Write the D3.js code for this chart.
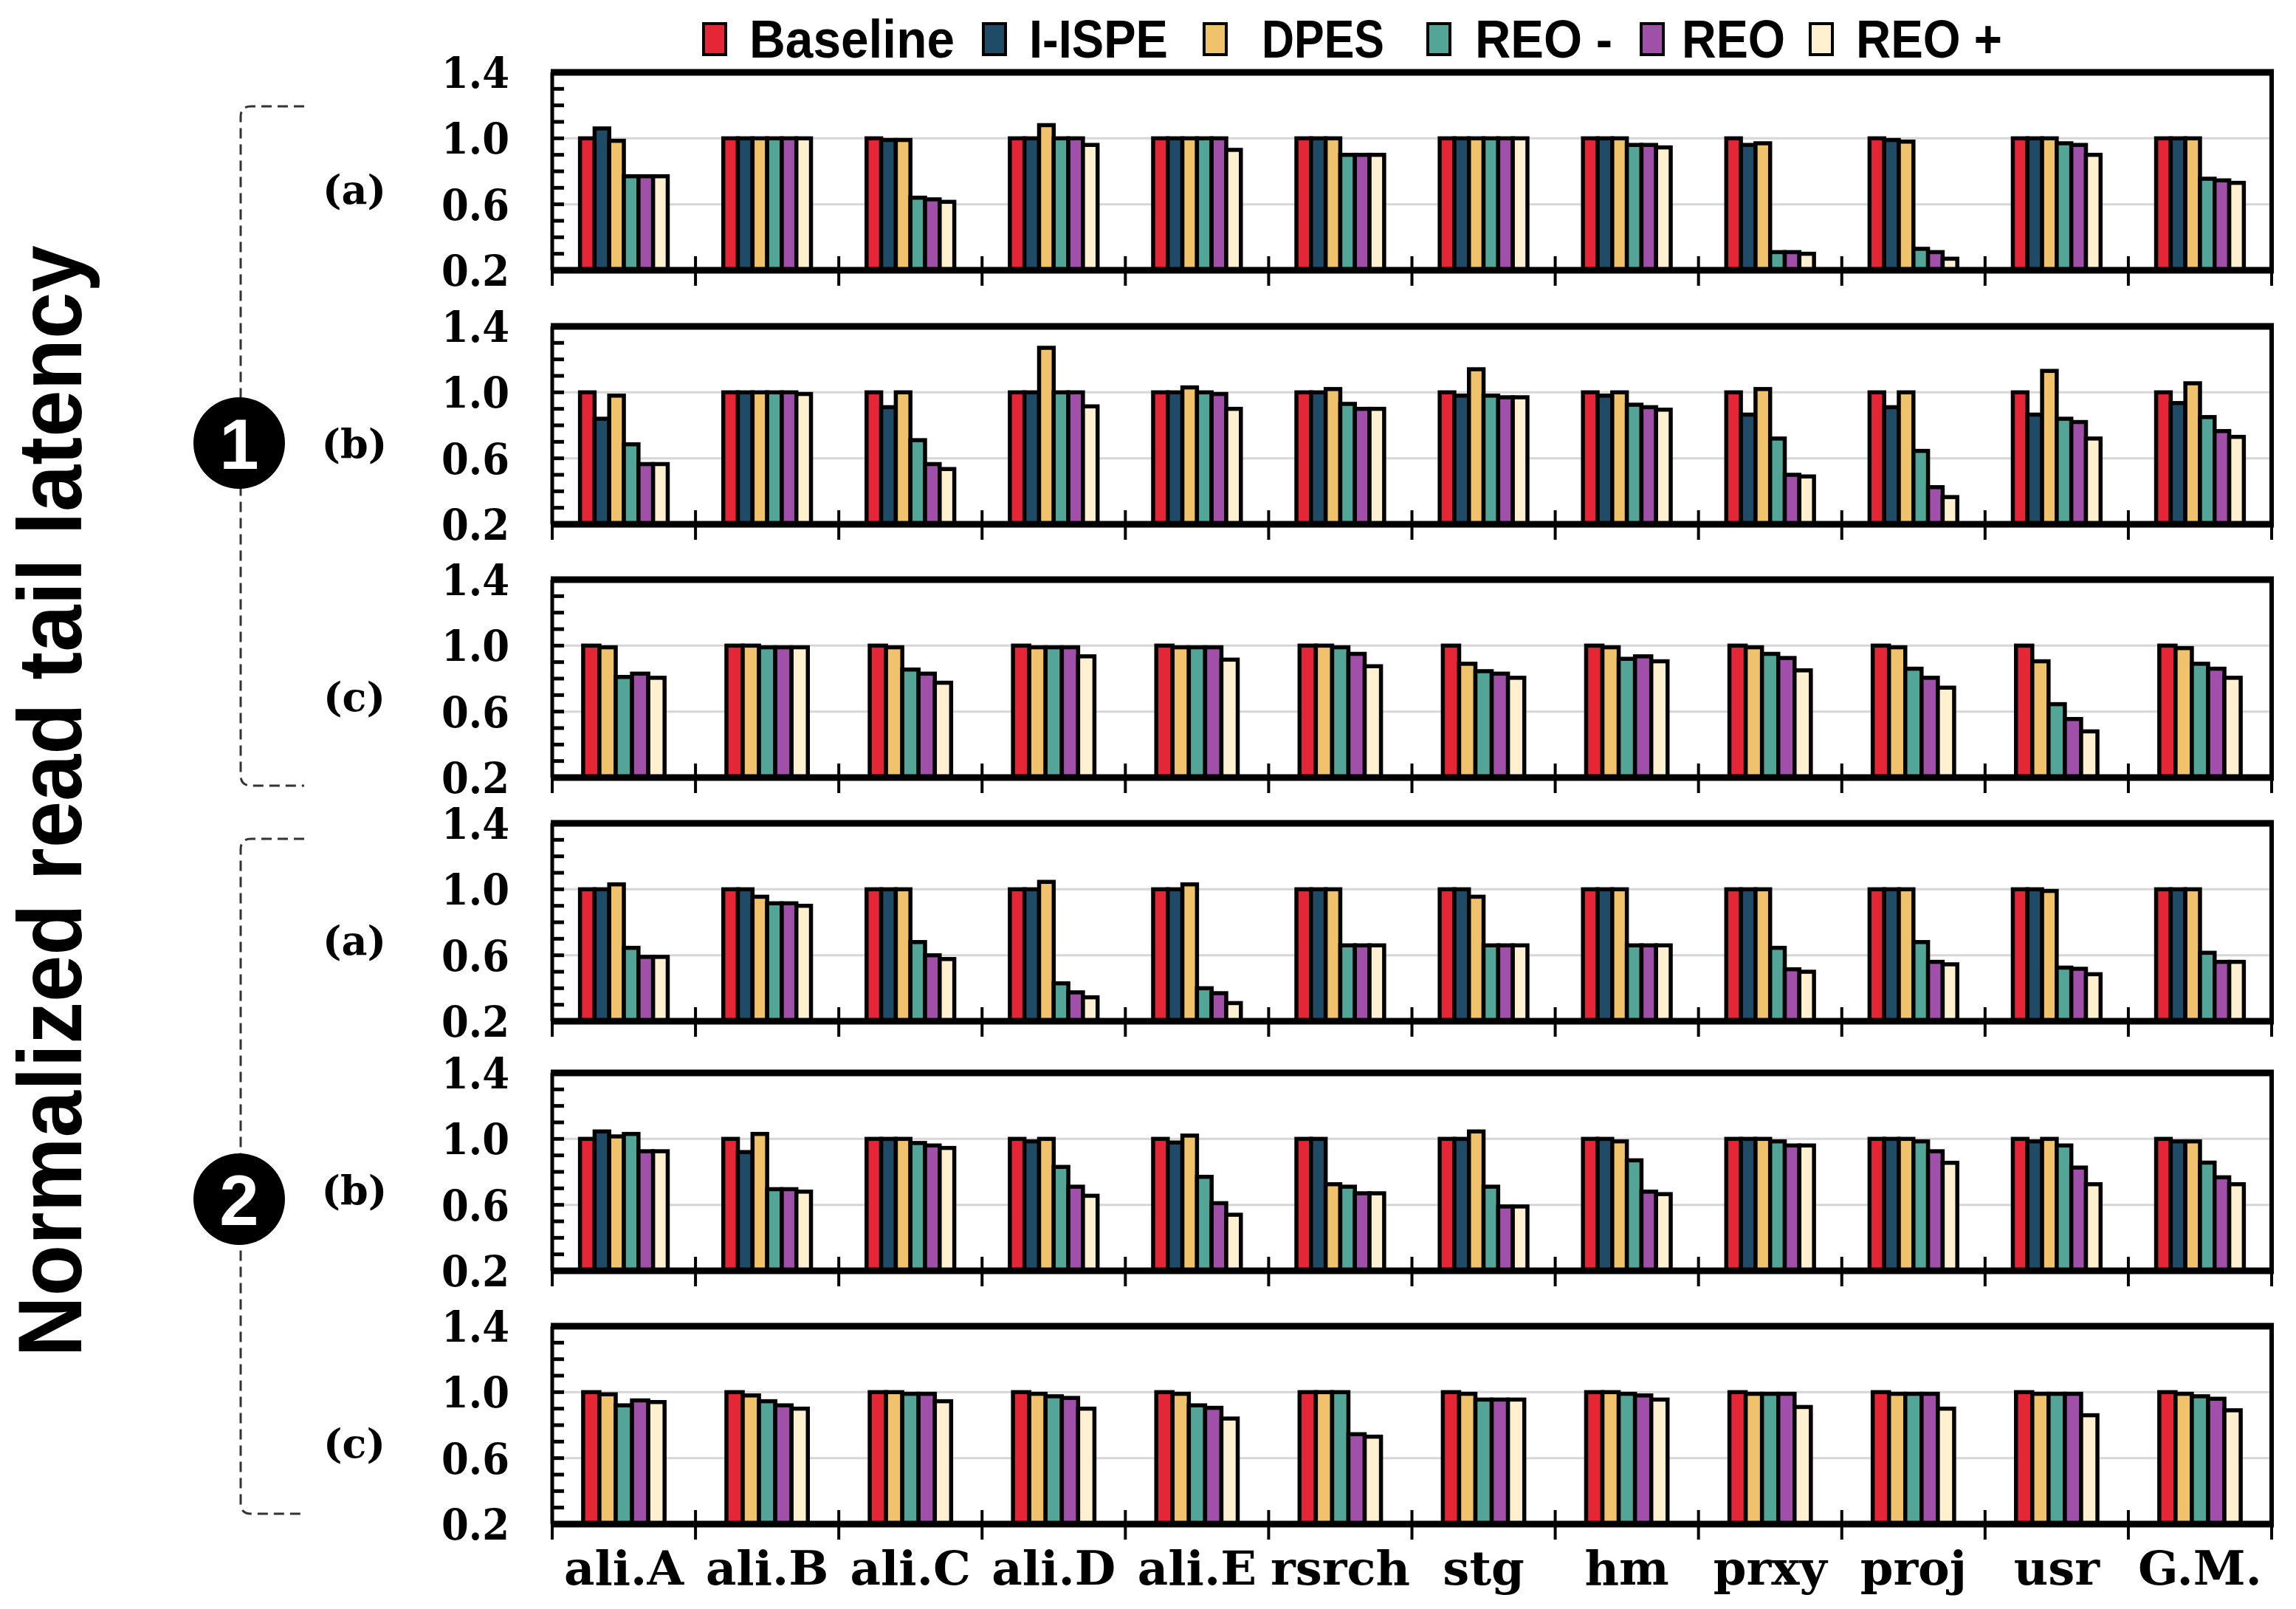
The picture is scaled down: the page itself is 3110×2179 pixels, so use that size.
<!DOCTYPE html>
<html>
<head>
<meta charset="utf-8">
<script src="https://cdn.jsdelivr.net/npm/d3@7"></script>
<style>
  body { margin: 0; background: #fff; }
  svg { display: block; background: #fff; }
</style>
</head>
<body>
<svg id="chart" width="3110" height="2179"></svg>
<script>
// ---- data ----
const categories = ["ali.A", "ali.B", "ali.C", "ali.D", "ali.E", "rsrch", "stg", "hm", "prxy", "proj", "usr", "G.M."];
const seriesNames = ["Baseline", "I-ISPE", "DPES", "REO -", "REO", "REO +"];
const seriesColors = ["#e52636", "#1f4b67", "#f0c26c", "#53a597", "#a050a8", "#fff1cf"];
const yTicks = [0.2, 0.6, 1.0, 1.4];
const gridTicks = [0.6, 1.0];
const panelLabels = ["(a)", "(b)", "(c)", "(a)", "(b)", "(c)"];
const groupMarks = ["1", "2"];

// scenario 1 (a)
const s1a = [
  [1.0, 1.0, 1.0, 1.0, 1.0, 1.0, 1.0, 1.0, 1.0, 1.0, 1.0, 1.0],
  [1.06, 1.0, 0.99, 1.0, 1.0, 1.0, 1.0, 1.0, 0.96, 0.99, 1.0, 1.0],
  [0.985, 1.0, 0.99, 1.08, 1.0, 1.0, 1.0, 1.0, 0.97, 0.98, 1.0, 1.0],
  [0.77, 1.0, 0.64, 1.0, 1.0, 0.90, 1.0, 0.96, 0.31, 0.33, 0.97, 0.755],
  [0.77, 1.0, 0.63, 1.0, 1.0, 0.90, 1.0, 0.96, 0.31, 0.31, 0.96, 0.745],
  [0.77, 1.0, 0.615, 0.96, 0.93, 0.90, 1.0, 0.945, 0.30, 0.27, 0.90, 0.73]
];
// scenario 1 (b)
const s1b = [
  [1.0, 1.0, 1.0, 1.0, 1.0, 1.0, 1.0, 1.0, 1.0, 1.0, 1.0, 1.0],
  [0.84, 1.0, 0.91, 1.0, 1.0, 1.0, 0.98, 0.98, 0.865, 0.91, 0.865, 0.935],
  [0.98, 1.0, 1.0, 1.27, 1.03, 1.02, 1.14, 1.0, 1.02, 1.0, 1.13, 1.055],
  [0.685, 1.0, 0.71, 1.0, 1.0, 0.93, 0.98, 0.925, 0.72, 0.645, 0.84, 0.85],
  [0.565, 1.0, 0.565, 1.0, 0.99, 0.90, 0.97, 0.91, 0.50, 0.425, 0.82, 0.765],
  [0.565, 0.99, 0.535, 0.915, 0.90, 0.90, 0.97, 0.895, 0.49, 0.365, 0.72, 0.73]
];
// scenario 1 (c) - no I-ISPE
const s1c = [
  [1.0, 1.0, 1.0, 1.0, 1.0, 1.0, 1.0, 1.0, 1.0, 1.0, 1.0, 1.0],
  null,
  [0.99, 1.0, 0.99, 0.99, 0.99, 1.0, 0.89, 0.99, 0.99, 0.99, 0.905, 0.985],
  [0.81, 0.99, 0.855, 0.99, 0.99, 0.99, 0.845, 0.92, 0.95, 0.86, 0.645, 0.89],
  [0.83, 0.99, 0.83, 0.99, 0.99, 0.95, 0.83, 0.935, 0.925, 0.805, 0.555, 0.86],
  [0.805, 0.99, 0.775, 0.935, 0.915, 0.875, 0.805, 0.905, 0.85, 0.745, 0.48, 0.805]
];
// scenario 2 (a)
const s2a = [
  [1.0, 1.0, 1.0, 1.0, 1.0, 1.0, 1.0, 1.0, 1.0, 1.0, 1.0, 1.0],
  [1.0, 1.0, 1.0, 1.0, 1.0, 1.0, 1.0, 1.0, 1.0, 1.0, 1.0, 1.0],
  [1.03, 0.955, 1.0, 1.045, 1.03, 1.0, 0.955, 1.0, 1.0, 1.0, 0.99, 1.0],
  [0.645, 0.915, 0.68, 0.43, 0.40, 0.66, 0.66, 0.66, 0.645, 0.68, 0.525, 0.615],
  [0.59, 0.915, 0.60, 0.375, 0.37, 0.66, 0.66, 0.66, 0.515, 0.56, 0.518, 0.56],
  [0.59, 0.90, 0.577, 0.345, 0.31, 0.66, 0.66, 0.66, 0.50, 0.545, 0.485, 0.56]
];
// scenario 2 (b)
const s2b = [
  [1.0, 1.0, 1.0, 1.0, 1.0, 1.0, 1.0, 1.0, 1.0, 1.0, 1.0, 1.0],
  [1.045, 0.92, 1.0, 0.985, 0.978, 1.0, 1.0, 1.0, 1.0, 1.0, 0.985, 0.985],
  [1.015, 1.03, 1.0, 1.0, 1.02, 0.725, 1.045, 0.985, 1.0, 1.0, 1.0, 0.985],
  [1.03, 0.695, 0.975, 0.83, 0.77, 0.71, 0.71, 0.87, 0.985, 0.985, 0.96, 0.856],
  [0.925, 0.695, 0.96, 0.71, 0.61, 0.67, 0.59, 0.68, 0.96, 0.925, 0.826, 0.767],
  [0.925, 0.68, 0.945, 0.655, 0.54, 0.67, 0.59, 0.665, 0.96, 0.855, 0.725, 0.725]
];
// scenario 2 (c) - no I-ISPE
const s2c = [
  [1.0, 1.0, 1.0, 1.0, 1.0, 1.0, 1.0, 1.0, 1.0, 1.0, 1.0, 1.0],
  null,
  [0.987, 0.98, 1.0, 0.99, 0.99, 1.0, 0.99, 1.0, 0.99, 0.99, 0.99, 0.99],
  [0.92, 0.945, 0.99, 0.975, 0.92, 1.0, 0.955, 0.99, 0.99, 0.99, 0.99, 0.975],
  [0.95, 0.92, 0.99, 0.965, 0.905, 0.745, 0.955, 0.98, 0.99, 0.99, 0.99, 0.96],
  [0.94, 0.90, 0.945, 0.90, 0.84, 0.73, 0.955, 0.955, 0.91, 0.90, 0.86, 0.89]
];

const panels = [s1a, s1b, s1c, s2a, s2b, s2c];

// ---- layout ----
const plotLeft = 748;
const plotRight = 3077;
const panelTops = [98, 442, 785, 1115, 1453, 1796];
const panelH = 268;
const legendX = [953, 1332, 1631, 1934, 2223, 2452];
const legendTextX = [1015, 1394, 1709, 1998, 2278, 2514];
const legendTextW = [278, 188, 166, 186, 140, 198];

const svg = d3.select("#chart");
const serif = "'DejaVu Serif', 'Liberation Serif', serif";
const sans = "'Liberation Sans', Arial, sans-serif";

const x = d3.scaleBand()
  .domain(categories)
  .range([plotLeft, plotRight])
  .padding(0);

function drawPanel(data, top, idx) {
  const bottom = top + panelH;
  const y = d3.scaleLinear().domain([0.2, 1.4]).range([bottom, top]);
  const g = svg.append("g");

  // grid lines
  g.selectAll("line.grid")
    .data(gridTicks)
    .join("line")
    .attr("x1", plotLeft).attr("x2", plotRight)
    .attr("y1", d => y(d)).attr("y2", d => y(d))
    .attr("stroke", "#d6d6d6")
    .attr("stroke-width", 3);

  // bars
  const present = data.map((d, k) => d ? k : -1).filter(k => k >= 0);
  const n = present.length;
  const bw = x.bandwidth() / (n + 3.8);
  const bars = [];
  categories.forEach((c, i) => {
    present.forEach((k, slot) => {
      bars.push({ cat: c, s: k, slot: slot, v: data[k][i] });
    });
  });
  g.selectAll("rect.bar")
    .data(bars)
    .join("rect")
    .attr("x", d => x(d.cat) + x.bandwidth() / 2 - n * bw / 2 + d.slot * bw)
    .attr("width", bw)
    .attr("y", d => y(d.v))
    .attr("height", d => y(0.2) - y(d.v))
    .attr("fill", d => seriesColors[d.s])
    .attr("stroke", "#000")
    .attr("stroke-width", 5.5);

  // minor ticks on the y axis (inside)
  const minor = d3.range(3, 14).map(v => v / 10);
  g.selectAll("line.minor")
    .data(minor)
    .join("line")
    .attr("x1", plotLeft).attr("x2", plotLeft + 16)
    .attr("y1", d => y(d)).attr("y2", d => y(d))
    .attr("stroke", "#000")
    .attr("stroke-width", 5);

  // category boundary ticks crossing the x axis
  const bounds = categories.map(c => x(c)).concat([plotRight]);
  g.selectAll("line.ctick")
    .data(bounds)
    .join("line")
    .attr("x1", d => d).attr("x2", d => d)
    .attr("y1", bottom - 19).attr("y2", bottom + 21)
    .attr("stroke", "#000")
    .attr("stroke-width", 4);

  // frame
  g.append("line").attr("x1", plotLeft).attr("x2", plotLeft)
    .attr("y1", top).attr("y2", bottom)
    .attr("stroke", "#000").attr("stroke-width", 5);
  g.append("line").attr("x1", plotRight).attr("x2", plotRight)
    .attr("y1", top).attr("y2", bottom)
    .attr("stroke", "#000").attr("stroke-width", 6);
  g.append("line").attr("x1", plotLeft - 2).attr("x2", plotRight + 3)
    .attr("y1", top).attr("y2", top)
    .attr("stroke", "#000").attr("stroke-width", 9);
  g.append("line").attr("x1", plotLeft - 2).attr("x2", plotRight + 3)
    .attr("y1", bottom).attr("y2", bottom)
    .attr("stroke", "#000").attr("stroke-width", 9);

  // y tick labels
  g.selectAll("text.ytick")
    .data(yTicks)
    .join("text")
    .attr("x", 690)
    .attr("y", d => y(d))
    .attr("dy", "0.36em")
    .attr("text-anchor", "end")
    .attr("font-family", serif)
    .attr("font-weight", "bold")
    .attr("font-size", 58)
    .attr("textLength", 92)
    .attr("lengthAdjust", "spacingAndGlyphs")
    .text(d => d.toFixed(1));

  // panel label
  g.append("text")
    .attr("x", 480)
    .attr("y", (top + bottom) / 2 + 25)
    .attr("dy", "0.36em")
    .attr("text-anchor", "middle")
    .attr("font-family", serif)
    .attr("font-weight", "bold")
    .attr("font-size", 54)
    .text(panelLabels[idx]);

  return y;
}

panels.forEach((p, i) => drawPanel(p, panelTops[i], i));

// category labels under the last panel
svg.append("g")
  .selectAll("text")
  .data(categories)
  .join("text")
  .attr("x", d => x(d) + x.bandwidth() / 2)
  .attr("y", 2146)
  .attr("text-anchor", "middle")
  .attr("font-family", serif)
  .attr("font-weight", "bold")
  .attr("font-size", 64)
  .text(d => d);

// legend
const leg = svg.append("g");
leg.selectAll("rect")
  .data(seriesNames)
  .join("rect")
  .attr("x", (d, i) => legendX[i])
  .attr("y", 32)
  .attr("width", 30)
  .attr("height", 42)
  .attr("fill", (d, i) => seriesColors[i])
  .attr("stroke", "#000")
  .attr("stroke-width", 4);
leg.selectAll("text")
  .data(seriesNames)
  .join("text")
  .attr("x", (d, i) => legendTextX[i])
  .attr("y", 78)
  .attr("font-family", sans)
  .attr("font-weight", "bold")
  .attr("font-size", 72)
  .attr("textLength", (d, i) => legendTextW[i])
  .attr("lengthAdjust", "spacingAndGlyphs")
  .text(d => d);

// y axis title
svg.append("text")
  .attr("transform", "translate(110,1085) rotate(-90)")
  .attr("text-anchor", "middle")
  .attr("font-family", sans)
  .attr("font-weight", "bold")
  .attr("font-size", 122)
  .attr("textLength", 1505)
  .attr("lengthAdjust", "spacingAndGlyphs")
  .text("Normalized read tail latency");

// dashed brackets and circled group numbers
const groupSpans = [[144, 1064], [1136, 2050]];
groupSpans.forEach(([t, b], i) => {
  const bx = 326, r = 14, ex = 412;
  svg.append("path")
    .attr("d", `M${ex},${t} H${bx + r} Q${bx},${t} ${bx},${t + r} V${b - r} Q${bx},${b} ${bx + r},${b} H${ex}`)
    .attr("fill", "none")
    .attr("stroke", "#333")
    .attr("stroke-width", 3)
    .attr("stroke-dasharray", "14 8");
  const cy = i === 0 ? 600 : 1624;
  svg.append("circle")
    .attr("cx", 324).attr("cy", cy).attr("r", 62)
    .attr("fill", "#000");
  svg.append("text")
    .attr("x", 324).attr("y", cy)
    .attr("dy", "0.36em")
    .attr("text-anchor", "middle")
    .attr("font-family", sans)
    .attr("font-weight", "bold")
    .attr("font-size", 96)
    .attr("fill", "#fff")
    .text(groupMarks[i]);
});
</script>
</body>
</html>
